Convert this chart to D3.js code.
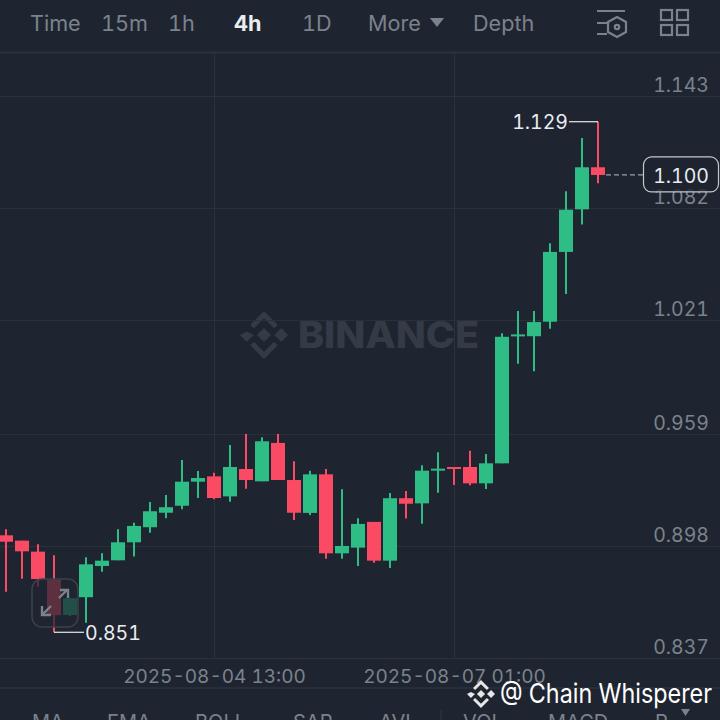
<!DOCTYPE html>
<html>
<head>
<meta charset="utf-8">
<script src="https://cdn.jsdelivr.net/npm/d3@7"></script>
<style>
  html, body { margin: 0; padding: 0; background: #1e2530; }
  svg { display: block; }
  text { font-family: Inter, Roboto, sans-serif; font-variant-numeric: tabular-nums; }
</style>
</head>
<body>
<svg id="chart" width="720" height="720"></svg>
<script>
// candles are 4h apart, first one opens 2025-08-02 09:00
const firstCandle = "2025-08-02 09:00";
const opens = [0.9038, 0.9009, 0.8949, 0.8795, 0.8604, 0.8701, 0.8871, 0.8902, 0.9000, 0.9082, 0.9161, 0.9199, 0.9330, 0.9359, 0.9250, 0.9399, 0.9332, 0.9541, 0.9339, 0.9160, 0.9370, 0.8940, 0.8971, 0.9111, 0.8900, 0.9240, 0.9212, 0.9391, 0.9410, 0.9410, 0.9321, 0.9430, 1.0122, 1.0122, 1.0201, 1.0581, 1.0813, 1.1042];
const highs = [0.9071, 0.9009, 0.8989, 0.8929, 0.8695, 0.8918, 0.8940, 0.9071, 0.9107, 0.9219, 0.9258, 0.9448, 0.9388, 0.9379, 0.9530, 0.9590, 0.9572, 0.9590, 0.9441, 0.9390, 0.9399, 0.9289, 0.9131, 0.9111, 0.9268, 0.9279, 0.9419, 0.9490, 0.9410, 0.9499, 0.9481, 1.0138, 1.0259, 1.0259, 1.0628, 1.0911, 1.1201, 1.1290];
const lows = [0.8731, 0.8802, 0.8758, 0.8510, 0.8599, 0.8562, 0.8840, 0.8902, 0.8922, 0.9052, 0.9131, 0.9180, 0.9241, 0.9234, 0.9221, 0.9292, 0.9332, 0.9339, 0.9121, 0.9149, 0.8911, 0.8911, 0.8871, 0.8889, 0.8860, 0.9129, 0.9101, 0.9270, 0.9312, 0.9310, 0.9290, 0.9430, 0.9972, 0.9931, 1.0163, 1.0352, 1.0731, 1.0955];
const closes = [0.9003, 0.8951, 0.8800, 0.8603, 0.8695, 0.8880, 0.8900, 0.9000, 0.9089, 0.9169, 0.9191, 0.9330, 0.9350, 0.9241, 0.9410, 0.9339, 0.9550, 0.9339, 0.9161, 0.9370, 0.8940, 0.8980, 0.9100, 0.8900, 0.9240, 0.9210, 0.9390, 0.9401, 0.9399, 0.9321, 0.9430, 1.0119, 1.0132, 1.0199, 1.0581, 1.0811, 1.1042, 1.1000];

const priceTicks = [1.143, 1.082, 1.021, 0.959, 0.898, 0.837];
const timeTicks = ["2025-08-04 13:00", "2025-08-07 01:00"];
const navItems = ["Time", "15m", "1h", "4h", "1D", "More", "Depth"];
const navX = [30, 101, 168, 234, 302, 368, 473];
const tabItems = ["MA", "EMA", "BOLL", "SAR", "AVL", "VOL", "MACD", "R"];
const tabX = [32, 107, 195, 293, 379, 463, 548, 655];

const lastPrice = 1.1;
const maxPrice = 1.129;
const minPrice = 0.851;

const green = "#2ebd85";
const red = "#fb4b64";
const gridColor = "#2b323d";
const mutedText = "#7c828c";

const parseTime = d3.utcParse("%Y-%m-%d %H:%M");
const fmtTime = d3.utcFormat("%Y-%m-%d %H:%M");
const t0 = parseTime(firstCandle);
const candleTime = (i) => new Date(+t0 + i * 4 * 3600 * 1000);

const candles = opens.map((o, i) => ({
  t: candleTime(i), o, h: highs[i], l: lows[i], c: closes[i],
}));

const xScale = d3.scaleUtc()
  .domain([t0, candleTime(opens.length - 1)])
  .range([6, 598]);
const yScale = d3.scaleLinear().domain([0.837, 1.143]).range([658, 96]);

const svg = d3.select("#chart");
svg.append("rect").attr("width", 720).attr("height", 720).attr("fill", "#1e2530");

// binance mark, drawn around 0,0 with radius about 1
const logoPaths = [
  "M-0.57,-0.43 L-0.42,-0.28 L0,-0.7 L0.42,-0.28 L0.57,-0.43 L0,-1 Z",
  "M-0.72,-0.15 L-0.43,0 L-0.72,0.29 L-1,0 Z",
  "M0.72,-0.29 L1,0 L0.72,0.29 L0.43,0 Z",
  "M0,-0.29 L0.29,0 L0,0.29 L-0.29,0 Z",
  "M-0.57,0.43 L-0.42,0.28 L0,0.7 L0.42,0.28 L0.57,0.43 L0,1 Z",
];
function drawLogo(parent, cx, cy, r, fill) {
  parent.append("g")
    .attr("transform", `translate(${cx},${cy}) scale(${r})`)
    .selectAll("path")
    .data(logoPaths)
    .enter()
    .append("path")
    .attr("d", (d) => d)
    .attr("fill", fill);
}

// watermark sits under the grid and candles
drawLogo(svg, 264, 335, 24, "#343b46");
svg.append("text")
  .attr("x", 298).attr("y", 348)
  .attr("font-size", 37).attr("font-weight", 800)
  .attr("textLength", 181).attr("lengthAdjust", "spacingAndGlyphs")
  .attr("fill", "#343b46")
  .text("BINANCE");

// y axis, tick lines double as grid
const yAxis = svg.append("g")
  .attr("transform", "translate(720,0)")
  .call(d3.axisLeft(yScale).tickValues(priceTicks).tickSize(720).tickFormat(d3.format(".3f")));
yAxis.select(".domain").remove();
yAxis.selectAll("line").attr("stroke", gridColor);
yAxis.selectAll("text").remove();

// x axis
const xAxis = svg.append("g")
  .attr("transform", "translate(0,658)")
  .call(d3.axisBottom(xScale).tickValues(timeTicks.map(parseTime)).tickSize(-605).tickFormat(fmtTime));
xAxis.select(".domain").remove();
xAxis.selectAll("line").attr("stroke", gridColor);
xAxis.selectAll("text")
  .attr("y", 25).attr("dy", 0)
  .attr("font-size", 19).attr("fill", mutedText)
  .attr("font-family", "Inter, Roboto, sans-serif");

// candles
const candle = svg.append("g").selectAll("g").data(candles).enter().append("g");
candle.append("line")
  .attr("x1", (d) => xScale(d.t))
  .attr("x2", (d) => xScale(d.t))
  .attr("y1", (d) => yScale(d.h))
  .attr("y2", (d) => yScale(d.l))
  .attr("stroke-width", 2)
  .attr("stroke", (d) => (d.c >= d.o ? green : red));
candle.append("rect")
  .attr("x", (d) => xScale(d.t) - 7)
  .attr("width", 14)
  .attr("y", (d) => yScale(Math.max(d.o, d.c)))
  .attr("height", (d) => Math.max(2, Math.abs(yScale(d.o) - yScale(d.c))))
  .attr("fill", (d) => (d.c >= d.o ? green : red));

// price labels go over the candles
svg.append("g").selectAll("text").data(priceTicks).enter().append("text")
  .attr("x", 709)
  .attr("y", (d) => yScale(d) - 4)
  .attr("text-anchor", "end")
  .attr("font-size", 19.5)
  .attr("fill", mutedText)
  .text(d3.format(".3f"));

// high marker
const lastX = xScale(candles[candles.length - 1].t);
svg.append("line")
  .attr("x1", 569).attr("x2", lastX)
  .attr("y1", yScale(maxPrice)).attr("y2", yScale(maxPrice))
  .attr("stroke", "#e8eaec").attr("stroke-width", 1.2);
svg.append("text")
  .attr("x", 568).attr("y", yScale(maxPrice) + 7.5)
  .attr("text-anchor", "end").attr("font-size", 19.5).attr("fill", "#eaecef")
  .text(d3.format(".3f")(maxPrice));

// low marker
const lowX = xScale(candleTime(lows.indexOf(minPrice)));
svg.append("line")
  .attr("x1", lowX).attr("x2", 84)
  .attr("y1", yScale(minPrice)).attr("y2", yScale(minPrice))
  .attr("stroke", "#e8eaec").attr("stroke-width", 1.2);
svg.append("text")
  .attr("x", 85).attr("y", yScale(minPrice) + 7.5)
  .attr("font-size", 19.5).attr("fill", "#eaecef")
  .text(d3.format(".3f")(minPrice));

// last price line and box
svg.append("line")
  .attr("x1", 606).attr("x2", 643)
  .attr("y1", yScale(lastPrice)).attr("y2", yScale(lastPrice))
  .attr("stroke", "#9a9fa7").attr("stroke-width", 1.2).attr("stroke-dasharray", "5 3");
svg.append("rect")
  .attr("x", 643.5).attr("y", yScale(lastPrice) - 18)
  .attr("width", 75).attr("height", 35).attr("rx", 8)
  .attr("fill", "#1e2530").attr("fill-opacity", 0.82)
  .attr("stroke", "#c4c7cc").attr("stroke-width", 1.2);
svg.append("text")
  .attr("x", 709).attr("y", yScale(lastPrice) + 8)
  .attr("text-anchor", "end").attr("font-size", 19.5).attr("fill", "#eaecef")
  .text(d3.format(".3f")(lastPrice));

// expand button over the low candles
const expand = svg.append("g");
expand.append("rect")
  .attr("x", 32).attr("y", 579).attr("width", 46).attr("height", 48).attr("rx", 10)
  .attr("fill", "#1e2530").attr("fill-opacity", 0.72)
  .attr("stroke", "#3b414b").attr("stroke-width", 1.5);
expand.selectAll("path")
  .data(["M59,598 L67,590 M60,590 L68,590 L68,598", "M43,614 L51,606 M42,606 L42,615 L51,615"])
  .enter().append("path")
  .attr("d", (d) => d)
  .attr("fill", "none")
  .attr("stroke", "#7c828c")
  .attr("stroke-width", 2.4);

// top bar
svg.append("line")
  .attr("x1", 0).attr("x2", 720).attr("y1", 52.5).attr("y2", 52.5)
  .attr("stroke", gridColor).attr("stroke-width", 2);
svg.append("g").selectAll("text").data(navItems).enter().append("text")
  .attr("x", (d, i) => navX[i])
  .attr("y", 31)
  .attr("font-size", 21.6)
  .attr("font-weight", (d) => (d === "4h" ? 700 : 400))
  .attr("fill", (d) => (d === "4h" ? "#eaecef" : mutedText))
  .text((d) => d);
svg.append("path").attr("d", "M430,18 L444,18 L437,27 Z").attr("fill", mutedText);

const navIcons = svg.append("g")
  .attr("fill", "none").attr("stroke", mutedText).attr("stroke-width", 2.2);
navIcons.append("path").attr("d", "M597,11 L625,11 M597,23 L607,23 M597,34 L607,34");
navIcons.append("path").attr("d", "M617,17 L626,22 L626,32 L617,37 L608,32 L608,22 Z");
navIcons.append("circle").attr("cx", 617).attr("cy", 27).attr("r", 2.2);
navIcons.selectAll("rect")
  .data([[661, 10], [677, 10], [661, 25], [677, 25]])
  .enter().append("rect")
  .attr("x", (d) => d[0]).attr("y", (d) => d[1])
  .attr("width", 11).attr("height", 10);

// bottom bar, its labels are cut by the window
svg.append("line")
  .attr("x1", 0).attr("x2", 720).attr("y1", 688).attr("y2", 688)
  .attr("stroke", gridColor).attr("stroke-width", 1.5);
svg.append("g").selectAll("text").data(tabItems).enter().append("text")
  .attr("x", (d, i) => tabX[i])
  .attr("y", 729)
  .attr("font-size", 20)
  .attr("fill", mutedText)
  .text((d) => d);
svg.append("line")
  .attr("x1", 441).attr("x2", 441).attr("y1", 710).attr("y2", 720)
  .attr("stroke", gridColor).attr("stroke-width", 1.5);
svg.append("path").attr("d", "M681,709 L690,709 L685.5,716 Z").attr("fill", mutedText);

// credit on top of everything
drawLogo(svg, 481, 694, 14, "#e6e6e6");
svg.append("text")
  .attr("x", 500).attr("y", 703)
  .attr("font-size", 27).attr("font-weight", 400).attr("fill", "#ffffff")
  .attr("textLength", 212).attr("lengthAdjust", "spacingAndGlyphs")
  .text("@ Chain Whisperer");
</script>
</body>
</html>
